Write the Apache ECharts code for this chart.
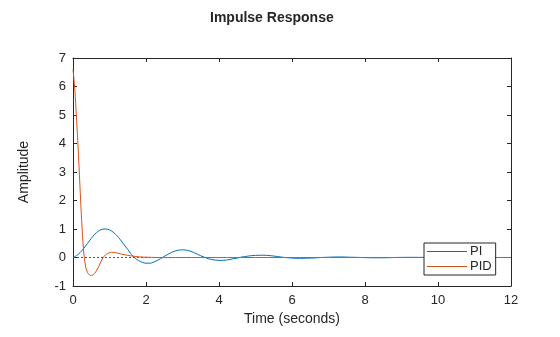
<!DOCTYPE html>
<html>
<head>
<meta charset="utf-8">
<script src="https://cdn.jsdelivr.net/npm/echarts@6/dist/echarts.min.js"></script>
<style>html,body{margin:0;padding:0;background:#fff}#c{width:560px;height:337px}</style>
</head>
<body>
<div id="c"></div>
<script>
var seriesNames = ['PI', 'PID'];
var xTicks = [0, 2, 4, 6, 8, 10, 12];
var yTicks = [-1, 0, 1, 2, 3, 4, 5, 6, 7];

var piTime = [0,0.1,0.2,0.3,0.4,0.5,0.6,0.7,0.8,0.9,1.0,1.1,1.2,1.3,1.4,1.5,1.6,1.7,1.8,1.9,2.0,2.1,2.2,2.3,2.4,2.5,2.6,2.7,2.8,2.9,3.0,3.1,3.2,3.3,3.4,3.5,3.6,3.7,3.8,3.9,4.0,4.1,4.2,4.3,4.4,4.5,4.6,4.8,5.0,5.2,5.4,5.6,5.8,6.0,6.2,6.4,6.6,6.8,7.0,7.3,7.6,7.9,8.2,8.5,8.8,9.1,9.4,9.7,10,10.5,11,11.5,12];
var piValue = [0,0.07,0.18,0.33,0.5,0.67,0.82,0.93,0.99,1.0,0.97,0.89,0.77,0.62,0.45,0.28,0.11,-0.02,-0.11,-0.17,-0.2,-0.2,-0.17,-0.11,-0.04,0.04,0.11,0.18,0.23,0.26,0.27,0.26,0.23,0.18,0.12,0.06,0.01,-0.04,-0.07,-0.09,-0.1,-0.1,-0.09,-0.07,-0.04,-0.02,0.01,0.05,0.075,0.08,0.065,0.035,0.0,-0.02,-0.03,-0.025,-0.015,0.0,0.01,0.02,0.01,0.0,-0.01,-0.01,0.0,0.005,0.006,0.003,0,-0.003,0,0.001,0];

var pidTime = [0,0.05,0.1,0.15,0.2,0.25,0.3,0.35,0.4,0.45,0.5,0.55,0.6,0.7,0.8,0.9,1.0,1.1,1.2,1.3,1.4,1.6,1.8,2.0,2.3,2.6,3,4,6,8,10,12];
var pidValue = [6.6,5.9,4.8,3.6,2.25,1.0,0.1,-0.35,-0.53,-0.61,-0.63,-0.61,-0.55,-0.33,-0.05,0.1,0.17,0.18,0.16,0.13,0.1,0.055,0.025,0.01,0.0,-0.004,0,0,0,0,0,0];

function pairs(t, v) { return t.map(function (x, i) { return [x, v[i]]; }); }

var FONT = '"Liberation Sans", Arial, Helvetica, sans-serif';
var TXT = '#262626';
var chart = echarts.init(document.getElementById('c'), null, {renderer: 'canvas'});

var axisCommon = {
  axisLine: {show: true, onZero: false, lineStyle: {color: TXT, width: 1}},
  axisTick: {show: true, inside: true, length: 4, lineStyle: {color: TXT}},
  splitLine: {show: false}
};

chart.setOption({
  animation: false,
  backgroundColor: '#fff',
  textStyle: {fontFamily: FONT},
  title: {
    text: 'Impulse Response',
    left: 210, top: 11, padding: 0,
    textStyle: {fontFamily: FONT, fontSize: 14, fontWeight: 'bold', color: TXT}
  },
  grid: {left: 73, right: 49, top: 58, bottom: 51, show: false},
  legend: {
    data: seriesNames,
    orient: 'vertical',
    left: 424, top: 243,
    padding: [2, 4, 2, 3],
    itemGap: 2,
    itemWidth: 40, itemHeight: 1,
    icon: 'rect',
    borderColor: TXT, borderWidth: 1,
    backgroundColor: '#fff',
    textStyle: {fontFamily: FONT, fontSize: 13, color: TXT, padding: [0, 0, 0, -2]}
  },
  xAxis: [
    Object.assign({
      type: 'value', min: xTicks[0], max: xTicks[xTicks.length - 1], interval: 2,
      position: 'bottom',
      name: 'Time (seconds)', nameLocation: 'middle', nameGap: 25,
      nameTextStyle: {fontFamily: FONT, fontSize: 14, color: TXT},
      axisLabel: {fontFamily: FONT, fontSize: 13, color: TXT, margin: 8}
    }, axisCommon),
    Object.assign({
      type: 'value', min: xTicks[0], max: xTicks[xTicks.length - 1], interval: 2,
      position: 'top', axisLabel: {show: false}
    }, axisCommon)
  ],
  yAxis: [
    Object.assign({
      type: 'value', min: yTicks[0], max: yTicks[yTicks.length - 1], interval: 1,
      position: 'left',
      name: 'Amplitude', nameLocation: 'middle', nameGap: 42,
      nameTextStyle: {fontFamily: FONT, fontSize: 14, color: TXT},
      axisLabel: {fontFamily: FONT, fontSize: 13, color: TXT, margin: 7}
    }, axisCommon),
    Object.assign({
      type: 'value', min: yTicks[0], max: yTicks[yTicks.length - 1], interval: 1,
      position: 'right', axisLabel: {show: false}
    }, axisCommon)
  ],
  series: [
    {
      name: 'zero', type: 'line', data: [[0, 0], [12, 0]],
      symbol: 'none', silent: true,
      lineStyle: {color: '#555', width: 1, type: [2, 2]},
      z: 1
    },
    {
      name: seriesNames[0], type: 'line', data: pairs(piTime, piValue),
      symbol: 'none', smooth: 0.35,
      color: '#0072BD',
      lineStyle: {color: '#0072BD', width: 1},
      z: 2
    },
    {
      name: seriesNames[1], type: 'line', data: pairs(pidTime, pidValue),
      symbol: 'none', smooth: 0.3,
      color: '#D95319',
      lineStyle: {color: '#D95319', width: 1},
      z: 3
    }
  ]
});
</script>
</body>
</html>
